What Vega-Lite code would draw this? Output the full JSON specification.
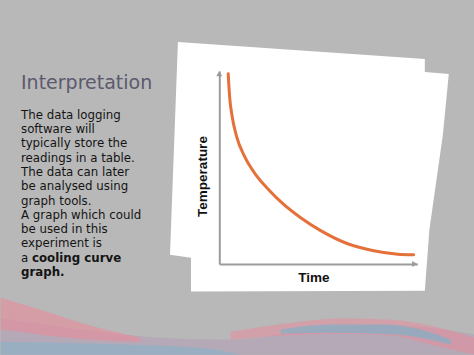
{
  "$schema": "https://vega.github.io/schema/vega-lite/v6.json",
  "background": "#b8b8b8",
  "padding": {"left": 0, "top": 42, "right": 0, "bottom": 0},
  "config": {"view": {"stroke": null}},
  "bounds": "flush",
  "spacing": 68.3,
  "hconcat": [
    {
      "width": 130,
      "height": 245,
      "title": {"text": "Interpretation", "anchor": "start", "frame": "group", "font": "DejaVu Sans", "fontSize": 19, "fontWeight": "normal", "color": "#5b5a6e", "baseline": "alphabetic", "offset": 0, "dy": 37},
      "layer": [
        {
          "data": {"values": [
            {"line": 1, "text": "The data logging"},
            {"line": 2, "text": "software will"},
            {"line": 3, "text": "typically store the"},
            {"line": 4, "text": "readings in a table."},
            {"line": 5, "text": "The data can later"},
            {"line": 6, "text": "be analysed using"},
            {"line": 7, "text": "graph tools."},
            {"line": 8, "text": "A graph which could"},
            {"line": 9, "text": "be used in this"},
            {"line": 10, "text": "experiment is"},
            {"line": 11, "text": "a"}
          ]},
          "mark": {"type": "text", "align": "left", "baseline": "middle", "font": "DejaVu Sans", "fontSize": 11.8, "color": "#141414"},
          "encoding": {
            "y": {"field": "line", "type": "quantitative", "axis": null, "scale": {"domain": [-2.08, 15.09], "reverse": true, "nice": false, "zero": false}},
            "x": {"value": 0},
            "text": {"field": "text"}
          }
        },
        {
          "data": {"values": [{"line": 11, "text": "cooling curve"}]},
          "mark": {"type": "text", "align": "left", "baseline": "middle", "font": "DejaVu Sans", "fontSize": 11.8, "fontWeight": "bold", "color": "#141414", "dx": 11},
          "encoding": {
            "y": {"field": "line", "type": "quantitative", "axis": null, "scale": {"domain": [-2.08, 15.09], "reverse": true, "nice": false, "zero": false}},
            "x": {"value": 0},
            "text": {"field": "text"}
          }
        },
        {
          "data": {"values": [{"line": 12, "text": "graph."}]},
          "mark": {"type": "text", "align": "left", "baseline": "middle", "font": "DejaVu Sans", "fontSize": 11.8, "fontWeight": "bold", "color": "#141414"},
          "encoding": {
            "y": {"field": "line", "type": "quantitative", "axis": null, "scale": {"domain": [-2.08, 15.09], "reverse": true, "nice": false, "zero": false}},
            "x": {"value": 0},
            "text": {"field": "text"}
          }
        }
      ]
    },
    {
      "width": 198,
      "height": 193,
      "encoding": {
        "x": {"field": "t", "type": "quantitative", "scale": {"domain": [0, 100], "nice": false, "zero": false},
          "axis": {"title": "Time", "domain": true, "domainColor": "#9b9b9b", "domainWidth": 2, "ticks": false, "labels": false, "grid": false, "titleFont": "Liberation Sans", "titleFontSize": 13.5, "titleFontWeight": "bold", "titleColor": "#111111", "titlePadding": 6, "titleX": 94, "zindex": 1}},
        "y": {"field": "v", "type": "quantitative", "stack": null, "scale": {"domain": [0, 100], "nice": false, "zero": false},
          "axis": {"title": "Temperature", "domain": true, "domainColor": "#9b9b9b", "domainWidth": 2, "ticks": false, "labels": false, "grid": false, "titleFont": "Liberation Sans", "titleFontSize": 13.5, "titleFontWeight": "bold", "titleColor": "#111111", "titlePadding": 10, "titleY": 105, "zindex": 1}}
      },
      "layer": [
        {
          "data": {"values": [
            {"wave": "base", "t": -110.4, "v": -27.8, "v2": -47.0},
            {"wave": "base", "t": -70.0, "v": -34.0, "v2": -47.0},
            {"wave": "base", "t": -29.6, "v": -38.2, "v2": -47.0},
            {"wave": "base", "t": 5.8, "v": -39.2, "v2": -47.0},
            {"wave": "base", "t": 41.1, "v": -35.1, "v2": -47.0},
            {"wave": "base", "t": 81.5, "v": -31.4, "v2": -47.0},
            {"wave": "base", "t": 129.0, "v": -36.6, "v2": -47.0},
            {"wave": "pinkL", "t": -110.4, "v": -17.5, "v2": -34.0},
            {"wave": "pinkL", "t": -90.2, "v": -23.7, "v2": -36.6},
            {"wave": "pinkL", "t": -64.9, "v": -32.0, "v2": -39.2},
            {"wave": "pinkL", "t": -39.7, "v": -38.2, "v2": -40.3},
            {"wave": "blueL", "t": -110.4, "v": -40.3, "v2": -47.0},
            {"wave": "blueL", "t": -59.9, "v": -41.3, "v2": -47.0},
            {"wave": "blueL", "t": -9.4, "v": -43.4, "v2": -47.0},
            {"wave": "blueL", "t": 10.8, "v": -47.0, "v2": -47.0},
            {"wave": "pinkR", "t": 5.8, "v": -35.1, "v2": -39.2},
            {"wave": "pinkR", "t": 41.1, "v": -29.9, "v2": -36.6},
            {"wave": "pinkR", "t": 61.3, "v": -28.3, "v2": -36.1},
            {"wave": "pinkR", "t": 86.6, "v": -28.9, "v2": -37.1},
            {"wave": "pinkR", "t": 106.8, "v": -32.0, "v2": -41.8},
            {"wave": "pinkR", "t": 129.0, "v": -38.2, "v2": -47.0},
            {"wave": "blueR", "t": 31.0, "v": -34.0, "v2": -36.1},
            {"wave": "blueR", "t": 56.3, "v": -31.4, "v2": -35.6},
            {"wave": "blueR", "t": 81.5, "v": -31.4, "v2": -36.1},
            {"wave": "blueR", "t": 101.7, "v": -34.0, "v2": -38.2},
            {"wave": "blueR", "t": 116.9, "v": -39.2, "v2": -41.8}
          ]},
          "mark": {"type": "area", "interpolate": "monotone", "opacity": 0.6},
          "encoding": {
            "y2": {"field": "v2"},
            "color": {"field": "wave", "type": "nominal", "legend": null,
              "scale": {"domain": ["base", "pinkL", "blueL", "pinkR", "blueR"], "range": ["#b49fb6", "#e88c9b", "#86b3c6", "#e38f9f", "#73b4cb"]}}
          }
        },
        {
          "data": {"values": [
            {"i": 1, "t": -20.9, "v": 115.0},
            {"i": 2, "t": 103.8, "v": 106.2},
            {"i": 3, "t": 103.8, "v": 99.5},
            {"i": 4, "t": 115.9, "v": 98.5},
            {"i": 5, "t": 112.9, "v": 66.9},
            {"i": 6, "t": 106.1, "v": 17.7},
            {"i": 7, "t": 103.8, "v": -13.8},
            {"i": 8, "t": -14.3, "v": -14.3},
            {"i": 9, "t": -14.3, "v": 3.3},
            {"i": 10, "t": -24.9, "v": 4.8}
          ]},
          "mark": {"type": "line", "interpolate": "linear-closed", "fill": "#ffffff", "stroke": "#ffffff", "strokeWidth": 0},
          "encoding": {"order": {"field": "i", "type": "quantitative"}}
        },
        {
          "data": {"values": [
            {"dir": "up", "t": 0, "v": 98.65},
            {"dir": "right", "t": 98.7, "v": 0}
          ]},
          "mark": {"type": "point", "filled": true, "size": 36, "opacity": 1, "color": "#9b9b9b"},
          "encoding": {
            "shape": {"field": "dir", "type": "nominal", "legend": null, "scale": {"domain": ["up", "right"], "range": ["triangle-up", "triangle-right"]}}
          }
        },
        {
          "data": {"values": [
            {"t": 4.49, "v": 98.6},
            {"t": 5.25, "v": 86.2},
            {"t": 6.52, "v": 76.3},
            {"t": 8.79, "v": 65.9},
            {"t": 12.83, "v": 55.6},
            {"t": 18.38, "v": 46.3},
            {"t": 24.95, "v": 38.5},
            {"t": 31.52, "v": 31.8},
            {"t": 41.11, "v": 24.0},
            {"t": 51.21, "v": 17.3},
            {"t": 64.85, "v": 10.5},
            {"t": 77.98, "v": 6.9},
            {"t": 90.1, "v": 5.1},
            {"t": 98.18, "v": 4.8}
          ]},
          "mark": {"type": "line", "interpolate": "monotone", "color": "#e4703a", "strokeWidth": 3, "strokeCap": "round"}
        }
      ]
    }
  ]
}
